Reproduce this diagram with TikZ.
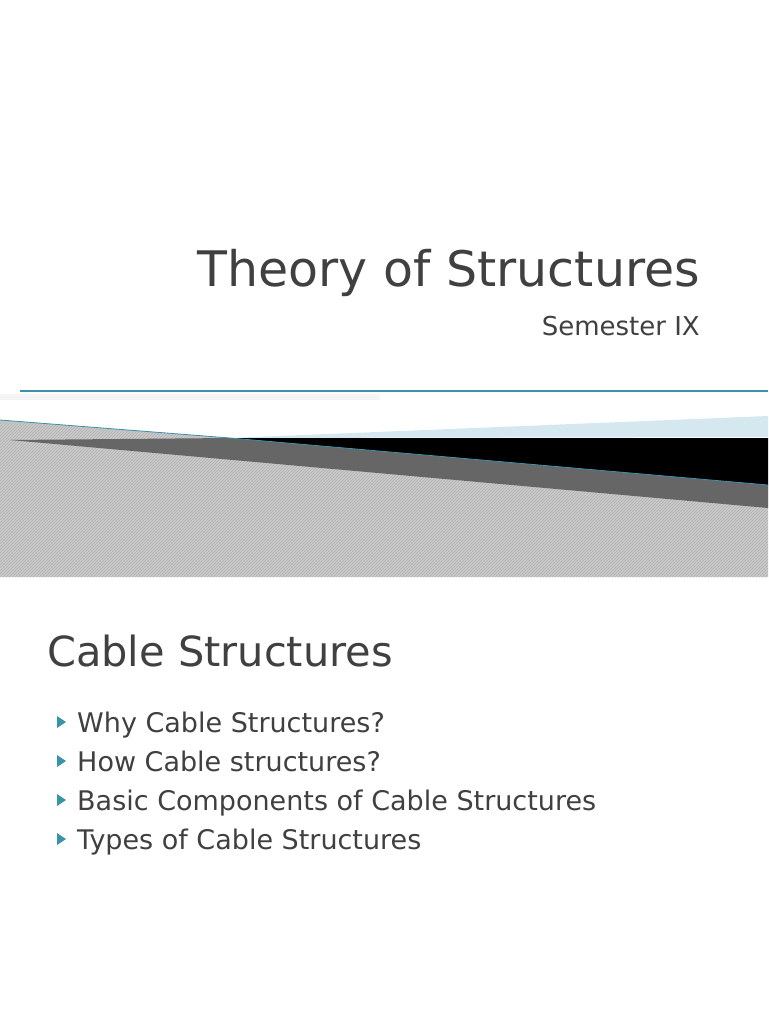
\documentclass[tikz,border=0pt]{standalone}
\usepackage{fontspec}
\setmainfont{DejaVu Sans}
\usetikzlibrary{patterns}
\definecolor{txt}{HTML}{404040}
\definecolor{teal1}{HTML}{3A93A8}
\definecolor{lblue}{HTML}{D6E8EF}
\tikzset{bul/.style={anchor=base west,text=txt,font=\fontsize{27}{30}\selectfont},
tri/.style={fill=teal1,draw=none}}
\begin{document}
\begin{tikzpicture}[x=1pt,y=-1pt]
\useasboundingbox (0,0) rectangle (768,1024);
\fill[white] (0,0) rectangle (768,1024);
% band
\fill[gray!8] (0,394) rectangle (380,400);
\draw[teal1,line width=1.2pt] (20,391) -- (768,391);
\fill[gray!42] (0,420) -- (230,438) -- (768,485) -- (768,577) -- (0,577) -- cycle;
\fill[pattern=north east lines,pattern color=gray!60] (0,420) -- (230,438) -- (768,485) -- (768,577) -- (0,577) -- cycle;
\fill[gray!80!black] (10,440) -- (230,438) -- (768,485) -- (768,508) -- cycle;
\fill[black] (230,438) -- (768,438) -- (768,485) -- cycle;
\fill[lblue] (230,438) -- (768,416) -- (768,437) -- cycle;
\draw[teal1,line width=0.8pt] (0,420) -- (230,438) -- (768,485);
% text
\node[anchor=base east,text=txt,font=\fontsize{49}{56}\selectfont,inner sep=0] (title) at (700,286) {Theory of Structures};
\node[anchor=base east,text=txt,font=\fontsize{26}{30}\selectfont,inner sep=0] (sub) at (700,335) {Semester IX};
\node[anchor=base west,text=txt,font=\fontsize{41.5}{48}\selectfont,inner sep=0] (head) at (47,666) {Cable Structures};
\foreach \y/\t [count=\i] in {722/Why Cable Structures?,761/How Cable structures?,800/Basic Components of Cable Structures,839/Types of Cable Structures}{
 \fill[tri] (57,\y-6) -- (66,\y) -- (57,\y+6) -- cycle;
 \node[bul,inner sep=0] (b\i) at (77,\y+10) {\t};
}
\end{tikzpicture}
\end{document}
